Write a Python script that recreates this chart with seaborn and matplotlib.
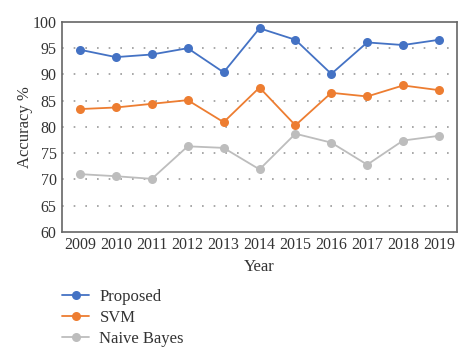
import pandas as pd
import matplotlib.pyplot as plt
import seaborn as sns

# Dados
anos = list(range(2009, 2020))
proposed = [94.7, 93.3, 93.8, 95.0, 90.4, 98.8, 96.6, 90.1, 96.1, 95.6, 96.6]
svm = [83.4, 83.7, 84.4, 85.1, 80.9, 87.5, 80.3, 86.5, 85.8, 87.9, 87.0]
naive_bayes = [71.0, 70.6, 70.1, 76.3, 76.0, 71.9, 78.7, 77.0, 72.8, 77.4, 78.3]

df = pd.DataFrame({
    "Year": anos * 3,
    "Accuracy": proposed + svm + naive_bayes,
    "Model": ["Proposed"] * 11 + ["SVM"] * 11 + ["Naive Bayes"] * 11,
})

sns.set_style("white")
plt.rcParams["font.family"] = ["Liberation Serif", "DejaVu Serif"]

fig = plt.figure(figsize=(4.74, 3.6), dpi=100)
ax = fig.add_axes([0.131, 0.356, 0.833, 0.583])

cores = {"Proposed": "#4472C4", "SVM": "#ED7D31", "Naive Bayes": "#BDBDBD"}
sns.lineplot(data=df, x="Year", y="Accuracy", hue="Model", palette=cores,
             marker="o", markersize=6.5, markeredgewidth=0, linewidth=1.3, ax=ax)

ax.set_xlim(2008.5, 2019.5)
ax.set_ylim(60, 100)
ax.set_xticks(anos)
ax.set_yticks(range(60, 101, 5))
ax.tick_params(axis="both", labelsize=11.5, length=0, pad=4, colors="#333333")
ax.set_xlabel("Year", fontsize=12, color="#333333")
ax.set_ylabel("Accuracy %", fontsize=12, color="#333333", labelpad=0)

for y in range(65, 100, 5):
    ax.axhline(y, color="#999999", linestyle=(0, (1, 6)), linewidth=1.2, zorder=0)
for s in ax.spines.values():
    s.set_color("#666666")
    s.set_linewidth(1.2)

handles, labels = ax.get_legend_handles_labels()
ax.get_legend().remove()
fig.legend(handles, labels, loc="upper left", bbox_to_anchor=(0.099, 0.239),
           frameon=False, fontsize=12, handlelength=1.65, handletextpad=0.6,
           labelspacing=0.3, labelcolor="#333333")

fig.savefig("out.png", dpi=100)
